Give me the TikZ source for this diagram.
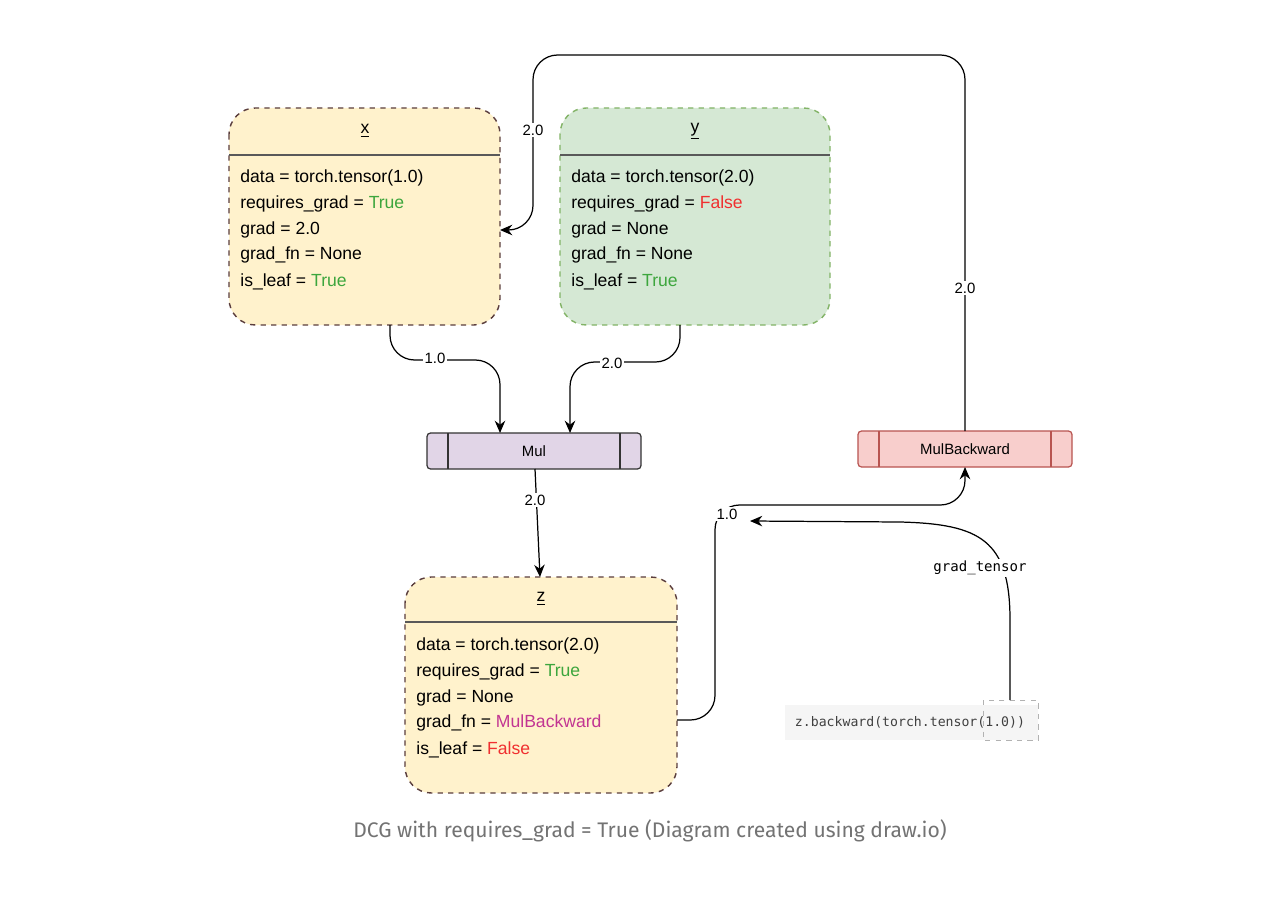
\documentclass[tikz,border=0pt]{standalone}
\usepackage{fontspec}
\setmainfont{Liberation Sans}
\newfontfamily\capfont{Fira Sans}
\newfontfamily\monofont{DejaVu Sans Mono}
\usetikzlibrary{arrows.meta}
\definecolor{yel}{HTML}{FFF2CC}
\definecolor{yelb}{HTML}{5A3D3D}
\definecolor{grn}{HTML}{D5E8D4}
\definecolor{grnb}{HTML}{82B366}
\definecolor{pur}{HTML}{E1D5E7}
\definecolor{redf}{HTML}{F8CECC}
\definecolor{redb}{HTML}{B85450}
\definecolor{tgreen}{HTML}{3DA63D}
\definecolor{tred}{HTML}{F03030}
\definecolor{tmag}{HTML}{C23592}
\begin{document}
\begin{tikzpicture}[x=0.02cm,y=-0.02cm,
  box/.style={draw,dashed,rounded corners=15,line width=0.8pt},
  txt/.style={anchor=west,font=\fontsize{10}{12}\selectfont,inner sep=0},
  ttl/.style={font=\fontsize{10}{12}\selectfont,inner sep=0},
  lbl/.style={fill=white,inner sep=1pt,font=\fontsize{8.5}{10}\selectfont},
  con/.style={draw=black,line width=0.7pt,rounded corners=14,-{Stealth[length=7pt,width=6pt]}},
  op/.style={draw,line width=0.7pt,rounded corners=2}]
\fill[white] (0,0) rectangle (1280,922);
\useasboundingbox (0,0) rectangle (1280,922);
% x box
\draw[box,draw=yelb,fill=yel] (229,108) rectangle (500,325);
\node[coordinate] (xbox) at (364,216) {};
\draw[gray!70!black,line width=1.5pt] (229,155) -- (500,155);
\node[ttl] (xt) at (365,131) {\underline{x}};
\node[txt] (x1) at (240,178) {data = torch.tensor(1.0)};
\node[txt] (x2) at (240,204) {requires\_grad = \textcolor{tgreen}{True}};
\node[txt] (x3) at (240,230) {grad = 2.0};
\node[txt] (x4) at (240,255) {grad\_fn = None};
\node[txt] (x5) at (240,282) {is\_leaf = \textcolor{tgreen}{True}};
% y box
\draw[box,draw=grnb,fill=grn] (560,108) rectangle (830,325);
\draw[gray!70!black,line width=1.5pt] (560,155) -- (830,155);
\node[ttl] (yt) at (695,131) {\underline{y}};
\node[txt] (y1) at (571,178) {data = torch.tensor(2.0)};
\node[txt] (y2) at (571,204) {requires\_grad = \textcolor{tred}{False}};
\node[txt] (y3) at (571,230) {grad = None};
\node[txt] (y4) at (571,255) {grad\_fn = None};
\node[txt] (y5) at (571,282) {is\_leaf = \textcolor{tgreen}{True}};
% z box
\draw[box,draw=yelb,fill=yel] (405,577) rectangle (677,793);
\draw[gray!70!black,line width=1.5pt] (405,622) -- (677,622);
\node[ttl] (zt) at (541,599) {\underline{z}};
\node[txt] (z1) at (416,646) {data = torch.tensor(2.0)};
\node[txt] (z2) at (416,672) {requires\_grad = \textcolor{tgreen}{True}};
\node[txt] (z3) at (416,698) {grad = None};
\node[txt] (z4) at (416,723) {grad\_fn = \textcolor{tmag}{MulBackward}};
\node[txt] (z5) at (416,750) {is\_leaf = \textcolor{tred}{False}};
% Mul
\draw[op,fill=pur,draw=black!80] (427,433) rectangle (641,469);
\draw[black!80,line width=0.7pt] (448,433) -- (448,469) (620,433) -- (620,469);
\node[font=\fontsize{8.5}{10}\selectfont] (mul) at (534,451) {Mul};
% MulBackward
\draw[op,fill=redf,draw=redb] (858,431) rectangle (1072,467);
\draw[redb,line width=0.7pt] (879,431) -- (879,467) (1051,431) -- (1051,467);
\node[font=\fontsize{8.5}{10}\selectfont] (mb) at (965,449) {MulBackward};
% backward call
\fill[black!4] (785,705) rectangle (1038,740);
\draw[dashed,gray!60] (983,700) rectangle (1038,740);
\node[font=\monofont\fontsize{7.5}{9}\selectfont,text=black!75] (call) at (910,722) {z.backward(torch.tensor(1.0))};
\coordinate (gt) at (750,521);
% connectors
\draw[con] (390,325) -- (390,360) -- (500,360) -- (500,433);
\node[lbl] at (435,358) {1.0};
\draw[con] (680,325) -- (680,362) -- (570,362) -- (570,433);
\node[lbl] at (612,363) {2.0};
\draw[con] (535,469) -- (540,577);
\node[lbl] at (535,500) {2.0};
\draw[con] (677,720) -- (715,720) -- (715,505) -- (965,505) -- (965,467);
\node[lbl] at (727,514) {1.0};
\draw[con] (965,431) -- (965,55) -- (533,55) -- (533,230) -- (500,230);
\node[lbl] at (965,288) {2.0};
\node[lbl] at (533,130) {2.0};
\draw[line width=0.7pt,-{Stealth[length=7pt,width=6pt]}] (1010,700) -- (1010,620) .. controls (1010,540) and (980,524) .. (900,522) -- (gt);
\node[lbl,font=\monofont\fontsize{8}{10}\selectfont] at (980,568) {grad\_tensor};
\node[font=\capfont\fontsize{12}{14}\selectfont,text=black!55] (cap) at (650,831) {DCG with requires\_grad = True (Diagram created using draw.io)};
\end{tikzpicture}
\end{document}
